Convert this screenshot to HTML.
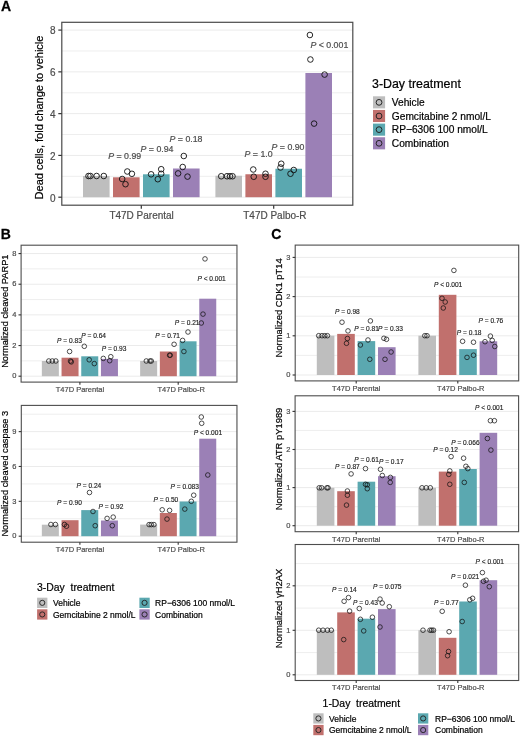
<!DOCTYPE html>
<html><head><meta charset="utf-8"><style>
html,body{margin:0;padding:0;background:#fff;width:520px;height:736px;overflow:hidden}
svg{display:block;font-family:"Liberation Sans", sans-serif;}
#wrap{width:520px;height:736px;will-change:transform}
text{white-space:pre}
</style></head><body><div id="wrap">
<svg width="520" height="736" viewBox="0 0 520 736">
<rect width="520" height="736" fill="#fff"/>
<text transform="translate(1,11.2) scale(1,1.04)" font-size="14" font-weight="bold" fill="#000" stroke="#000" stroke-width="0.25">A</text>
<text transform="translate(0.8,239.3) scale(1,1.04)" font-size="14" font-weight="bold" fill="#000" stroke="#000" stroke-width="0.25">B</text>
<text transform="translate(271.2,238.9) scale(1,1.04)" font-size="14" font-weight="bold" fill="#000" stroke="#000" stroke-width="0.25">C</text>
<line x1="61.8" x2="352.8" y1="176.31" y2="176.31" stroke="#ececec" stroke-width="0.9"/>
<line x1="61.8" x2="352.8" y1="134.53" y2="134.53" stroke="#ececec" stroke-width="0.9"/>
<line x1="61.8" x2="352.8" y1="92.75" y2="92.75" stroke="#ececec" stroke-width="0.9"/>
<line x1="61.8" x2="352.8" y1="50.97" y2="50.97" stroke="#ececec" stroke-width="0.9"/>
<line x1="61.8" x2="352.8" y1="197.2" y2="197.2" stroke="#ebebeb" stroke-width="1.0"/>
<line x1="61.8" x2="352.8" y1="155.42" y2="155.42" stroke="#ebebeb" stroke-width="1.0"/>
<line x1="61.8" x2="352.8" y1="113.64" y2="113.64" stroke="#ebebeb" stroke-width="1.0"/>
<line x1="61.8" x2="352.8" y1="71.86" y2="71.86" stroke="#ebebeb" stroke-width="1.0"/>
<line x1="61.8" x2="352.8" y1="30.08" y2="30.08" stroke="#ebebeb" stroke-width="1.0"/>
<rect x="83" y="176" width="26.6" height="21.2" fill="#bebebe"/>
<rect x="113" y="177.3" width="26.6" height="19.9" fill="#c1706d"/>
<rect x="143" y="174.3" width="26.6" height="22.9" fill="#5ba8b0"/>
<rect x="173" y="168.5" width="26.6" height="28.7" fill="#9b80b6"/>
<rect x="215.4" y="175.75" width="26.6" height="21.45" fill="#bebebe"/>
<rect x="245.4" y="174.25" width="26.6" height="22.95" fill="#c1706d"/>
<rect x="275.4" y="168.75" width="26.6" height="28.45" fill="#5ba8b0"/>
<rect x="305.4" y="73" width="26.6" height="124.2" fill="#9b80b6"/>
<circle cx="88.5" cy="176" r="2.8" fill="none" stroke="#111" stroke-width="0.90"/>
<circle cx="90.4" cy="176" r="2.8" fill="none" stroke="#111" stroke-width="0.90"/>
<circle cx="96.6" cy="176" r="2.8" fill="none" stroke="#111" stroke-width="0.90"/>
<circle cx="103.8" cy="176" r="2.8" fill="none" stroke="#111" stroke-width="0.90"/>
<circle cx="127.3" cy="171.5" r="2.8" fill="none" stroke="#111" stroke-width="0.90"/>
<circle cx="131.9" cy="173.8" r="2.8" fill="none" stroke="#111" stroke-width="0.90"/>
<circle cx="122.2" cy="179" r="2.8" fill="none" stroke="#111" stroke-width="0.90"/>
<circle cx="125.5" cy="184.2" r="2.8" fill="none" stroke="#111" stroke-width="0.90"/>
<circle cx="151.1" cy="174.3" r="2.8" fill="none" stroke="#111" stroke-width="0.90"/>
<circle cx="161.2" cy="169.2" r="2.8" fill="none" stroke="#111" stroke-width="0.90"/>
<circle cx="161.2" cy="173.8" r="2.8" fill="none" stroke="#111" stroke-width="0.90"/>
<circle cx="157.8" cy="179.2" r="2.8" fill="none" stroke="#111" stroke-width="0.90"/>
<circle cx="183.8" cy="156" r="2.8" fill="none" stroke="#111" stroke-width="0.90"/>
<circle cx="182.7" cy="167" r="2.8" fill="none" stroke="#111" stroke-width="0.90"/>
<circle cx="178.1" cy="173.4" r="2.8" fill="none" stroke="#111" stroke-width="0.90"/>
<circle cx="187.5" cy="176.6" r="2.8" fill="none" stroke="#111" stroke-width="0.90"/>
<circle cx="221.25" cy="176.25" r="2.8" fill="none" stroke="#111" stroke-width="0.90"/>
<circle cx="227" cy="176.25" r="2.8" fill="none" stroke="#111" stroke-width="0.90"/>
<circle cx="230" cy="176.25" r="2.8" fill="none" stroke="#111" stroke-width="0.90"/>
<circle cx="232.5" cy="176.25" r="2.8" fill="none" stroke="#111" stroke-width="0.90"/>
<circle cx="253.25" cy="169.5" r="2.8" fill="none" stroke="#111" stroke-width="0.90"/>
<circle cx="253.75" cy="176.75" r="2.8" fill="none" stroke="#111" stroke-width="0.90"/>
<circle cx="265.5" cy="173.75" r="2.8" fill="none" stroke="#111" stroke-width="0.90"/>
<circle cx="265.5" cy="176.75" r="2.8" fill="none" stroke="#111" stroke-width="0.90"/>
<circle cx="281.25" cy="163.75" r="2.8" fill="none" stroke="#111" stroke-width="0.90"/>
<circle cx="280.5" cy="167.5" r="2.8" fill="none" stroke="#111" stroke-width="0.90"/>
<circle cx="293.75" cy="170" r="2.8" fill="none" stroke="#111" stroke-width="0.90"/>
<circle cx="290.5" cy="173.75" r="2.8" fill="none" stroke="#111" stroke-width="0.90"/>
<circle cx="309.9" cy="35" r="2.8" fill="none" stroke="#111" stroke-width="0.90"/>
<circle cx="310.4" cy="59.5" r="2.8" fill="none" stroke="#111" stroke-width="0.90"/>
<circle cx="324.6" cy="74.6" r="2.8" fill="none" stroke="#111" stroke-width="0.90"/>
<circle cx="314.1" cy="123.6" r="2.8" fill="none" stroke="#111" stroke-width="0.90"/>
<text transform="translate(108.2,159) scale(1,1.04)" font-size="8.8" fill="#4d4d4d" stroke="#4d4d4d" stroke-width="0.2"><tspan font-style="italic">P</tspan> = 0.99</text>
<text transform="translate(140.5,151.7) scale(1,1.04)" font-size="8.8" fill="#4d4d4d" stroke="#4d4d4d" stroke-width="0.2"><tspan font-style="italic">P</tspan> = 0.94</text>
<text transform="translate(169.5,142.2) scale(1,1.04)" font-size="8.8" fill="#4d4d4d" stroke="#4d4d4d" stroke-width="0.2"><tspan font-style="italic">P</tspan> = 0.18</text>
<text transform="translate(244.5,156.7) scale(1,1.04)" font-size="8.8" fill="#4d4d4d" stroke="#4d4d4d" stroke-width="0.2"><tspan font-style="italic">P</tspan> = 1.0</text>
<text transform="translate(271.5,150.2) scale(1,1.04)" font-size="8.8" fill="#4d4d4d" stroke="#4d4d4d" stroke-width="0.2"><tspan font-style="italic">P</tspan> = 0.90</text>
<text transform="translate(310.4,47.6) scale(1,1.04)" font-size="8.8" fill="#4d4d4d" stroke="#4d4d4d" stroke-width="0.2"><tspan font-style="italic">P</tspan> &lt; 0.001</text>
<rect x="61.8" y="22.3" width="291" height="182.9" fill="none" stroke="#4a4a4a" stroke-width="1.2"/>
<line x1="58.3" x2="61.8" y1="197.2" y2="197.2" stroke="#333" stroke-width="1.2"/>
<text transform="translate(55.5,201.6) scale(1,1.04)" font-size="10" fill="#4d4d4d" text-anchor="end" stroke="#4d4d4d" stroke-width="0.2">0</text>
<line x1="58.3" x2="61.8" y1="155.42" y2="155.42" stroke="#333" stroke-width="1.2"/>
<text transform="translate(55.5,159.82) scale(1,1.04)" font-size="10" fill="#4d4d4d" text-anchor="end" stroke="#4d4d4d" stroke-width="0.2">2</text>
<line x1="58.3" x2="61.8" y1="113.64" y2="113.64" stroke="#333" stroke-width="1.2"/>
<text transform="translate(55.5,118.04) scale(1,1.04)" font-size="10" fill="#4d4d4d" text-anchor="end" stroke="#4d4d4d" stroke-width="0.2">4</text>
<line x1="58.3" x2="61.8" y1="71.86" y2="71.86" stroke="#333" stroke-width="1.2"/>
<text transform="translate(55.5,76.26) scale(1,1.04)" font-size="10" fill="#4d4d4d" text-anchor="end" stroke="#4d4d4d" stroke-width="0.2">6</text>
<line x1="58.3" x2="61.8" y1="30.08" y2="30.08" stroke="#333" stroke-width="1.2"/>
<text transform="translate(55.5,34.48) scale(1,1.04)" font-size="10" fill="#4d4d4d" text-anchor="end" stroke="#4d4d4d" stroke-width="0.2">8</text>
<line x1="141.3" x2="141.3" y1="205.2" y2="208.7" stroke="#333" stroke-width="1.2"/>
<text transform="translate(141.6,218.5) scale(1,1.04)" font-size="10" fill="#4d4d4d" text-anchor="middle" stroke="#4d4d4d" stroke-width="0.2">T47D Parental</text>
<line x1="273.7" x2="273.7" y1="205.2" y2="208.7" stroke="#333" stroke-width="1.2"/>
<text transform="translate(274.9,218.5) scale(1,1.04)" font-size="10" fill="#4d4d4d" text-anchor="middle" stroke="#4d4d4d" stroke-width="0.2">T47D Palbo-R</text>
<text transform="translate(42.7,117.5) rotate(-90) scale(1,1.04)" font-size="11" fill="#000" text-anchor="middle" stroke="#000" stroke-width="0.2">Dead cells, fold change to vehicle</text>
<text transform="translate(372,88.4) scale(1,1.04)" font-size="12.4" fill="#000" stroke="#000" stroke-width="0.2">3-Day treatment</text>
<rect x="373" y="96.3" width="12.1" height="12.1" fill="#bebebe"/>
<circle cx="379.05" cy="102.35" r="2.90" fill="none" stroke="#222" stroke-width="0.97"/>
<text transform="translate(391.8,106) scale(1,1.04)" font-size="10.2" fill="#000" stroke="#000" stroke-width="0.2">Vehicle</text>
<rect x="373" y="109.95" width="12.1" height="12.1" fill="#c1706d"/>
<circle cx="379.05" cy="116" r="2.90" fill="none" stroke="#222" stroke-width="0.97"/>
<text transform="translate(391.8,119.65) scale(1,1.04)" font-size="10.2" fill="#000" stroke="#000" stroke-width="0.2">Gemcitabine 2 nmol/L</text>
<rect x="373" y="123.6" width="12.1" height="12.1" fill="#5ba8b0"/>
<circle cx="379.05" cy="129.65" r="2.90" fill="none" stroke="#222" stroke-width="0.97"/>
<text transform="translate(391.8,133.3) scale(1,1.04)" font-size="10.2" fill="#000" stroke="#000" stroke-width="0.2">RP−6306 100 nmol/L</text>
<rect x="373" y="137.25" width="12.1" height="12.1" fill="#9b80b6"/>
<circle cx="379.05" cy="143.3" r="2.90" fill="none" stroke="#222" stroke-width="0.97"/>
<text transform="translate(391.8,146.95) scale(1,1.04)" font-size="10.2" fill="#000" stroke="#000" stroke-width="0.2">Combination</text>
<line x1="21.1" x2="236.95" y1="360.87" y2="360.87" stroke="#ececec" stroke-width="0.9"/>
<line x1="21.1" x2="236.95" y1="330.21" y2="330.21" stroke="#ececec" stroke-width="0.9"/>
<line x1="21.1" x2="236.95" y1="299.55" y2="299.55" stroke="#ececec" stroke-width="0.9"/>
<line x1="21.1" x2="236.95" y1="268.89" y2="268.89" stroke="#ececec" stroke-width="0.9"/>
<line x1="21.1" x2="236.95" y1="376.2" y2="376.2" stroke="#ebebeb" stroke-width="1.0"/>
<line x1="21.1" x2="236.95" y1="345.54" y2="345.54" stroke="#ebebeb" stroke-width="1.0"/>
<line x1="21.1" x2="236.95" y1="314.88" y2="314.88" stroke="#ebebeb" stroke-width="1.0"/>
<line x1="21.1" x2="236.95" y1="284.22" y2="284.22" stroke="#ebebeb" stroke-width="1.0"/>
<line x1="21.1" x2="236.95" y1="253.56" y2="253.56" stroke="#ebebeb" stroke-width="1.0"/>
<rect x="41.85" y="361" width="17" height="15.2" fill="#bebebe"/>
<rect x="61.55" y="357.7" width="17" height="18.5" fill="#c1706d"/>
<rect x="81.25" y="356.3" width="17" height="19.9" fill="#5ba8b0"/>
<rect x="100.95" y="358.9" width="17" height="17.3" fill="#9b80b6"/>
<rect x="140.15" y="361" width="17" height="15.2" fill="#bebebe"/>
<rect x="159.85" y="351.5" width="17" height="24.7" fill="#c1706d"/>
<rect x="179.55" y="341.3" width="17" height="34.9" fill="#5ba8b0"/>
<rect x="199.25" y="298.7" width="17" height="77.5" fill="#9b80b6"/>
<circle cx="48.8" cy="361" r="2.3" fill="none" stroke="#111" stroke-width="0.74"/>
<circle cx="52.3" cy="361" r="2.3" fill="none" stroke="#111" stroke-width="0.74"/>
<circle cx="55.8" cy="361" r="2.3" fill="none" stroke="#111" stroke-width="0.74"/>
<circle cx="69.6" cy="351.5" r="2.3" fill="none" stroke="#111" stroke-width="0.74"/>
<circle cx="70.5" cy="361" r="2.3" fill="none" stroke="#111" stroke-width="0.74"/>
<circle cx="71.3" cy="361.9" r="2.3" fill="none" stroke="#111" stroke-width="0.74"/>
<circle cx="84.3" cy="346.3" r="2.3" fill="none" stroke="#111" stroke-width="0.74"/>
<circle cx="89.2" cy="359.8" r="2.3" fill="none" stroke="#111" stroke-width="0.74"/>
<circle cx="94.3" cy="363.6" r="2.3" fill="none" stroke="#111" stroke-width="0.74"/>
<circle cx="103.3" cy="358.4" r="2.3" fill="none" stroke="#111" stroke-width="0.74"/>
<circle cx="110.8" cy="356.7" r="2.3" fill="none" stroke="#111" stroke-width="0.74"/>
<circle cx="109.7" cy="360.7" r="2.3" fill="none" stroke="#111" stroke-width="0.74"/>
<circle cx="146.3" cy="361" r="2.3" fill="none" stroke="#111" stroke-width="0.74"/>
<circle cx="150" cy="361" r="2.3" fill="none" stroke="#111" stroke-width="0.74"/>
<circle cx="151.3" cy="361" r="2.3" fill="none" stroke="#111" stroke-width="0.74"/>
<circle cx="169.6" cy="355.2" r="2.3" fill="none" stroke="#111" stroke-width="0.74"/>
<circle cx="170.2" cy="355.2" r="2.3" fill="none" stroke="#111" stroke-width="0.74"/>
<circle cx="174.1" cy="344.3" r="2.3" fill="none" stroke="#111" stroke-width="0.74"/>
<circle cx="182.6" cy="340.4" r="2.3" fill="none" stroke="#111" stroke-width="0.74"/>
<circle cx="188" cy="332" r="2.3" fill="none" stroke="#111" stroke-width="0.74"/>
<circle cx="183.9" cy="351.5" r="2.3" fill="none" stroke="#111" stroke-width="0.74"/>
<circle cx="205" cy="258.9" r="2.3" fill="none" stroke="#111" stroke-width="0.74"/>
<circle cx="203" cy="314.1" r="2.3" fill="none" stroke="#111" stroke-width="0.74"/>
<circle cx="201.3" cy="323" r="2.3" fill="none" stroke="#111" stroke-width="0.74"/>
<text transform="translate(57.1,343.4) scale(1,1.04)" font-size="6.6" fill="#1e1e1e" stroke="#1e1e1e" stroke-width="0.15"><tspan font-style="italic">P</tspan> = 0.83</text>
<text transform="translate(81.3,338.2) scale(1,1.04)" font-size="6.6" fill="#1e1e1e" stroke="#1e1e1e" stroke-width="0.15"><tspan font-style="italic">P</tspan> = 0.64</text>
<text transform="translate(101.7,351.1) scale(1,1.04)" font-size="6.6" fill="#1e1e1e" stroke="#1e1e1e" stroke-width="0.15"><tspan font-style="italic">P</tspan> = 0.93</text>
<text transform="translate(155.3,337.8) scale(1,1.04)" font-size="6.6" fill="#1e1e1e" stroke="#1e1e1e" stroke-width="0.15"><tspan font-style="italic">P</tspan> = 0.71</text>
<text transform="translate(174.8,324.8) scale(1,1.04)" font-size="6.6" fill="#1e1e1e" stroke="#1e1e1e" stroke-width="0.15"><tspan font-style="italic">P</tspan> = 0.21</text>
<text transform="translate(197.4,281.3) scale(1,1.04)" font-size="6.6" fill="#1e1e1e" stroke="#1e1e1e" stroke-width="0.15"><tspan font-style="italic">P</tspan> &lt; 0.001</text>
<rect x="21.1" y="245.2" width="215.85" height="136.9" fill="none" stroke="#4d4d4d" stroke-width="1.1"/>
<line x1="18.5" x2="21.1" y1="376.2" y2="376.2" stroke="#333" stroke-width="1.1"/>
<text transform="translate(16.3,378.4) scale(1,1.04)" font-size="7.5" fill="#4d4d4d" text-anchor="end" stroke="#4d4d4d" stroke-width="0.2">0</text>
<line x1="18.5" x2="21.1" y1="345.54" y2="345.54" stroke="#333" stroke-width="1.1"/>
<text transform="translate(16.3,347.74) scale(1,1.04)" font-size="7.5" fill="#4d4d4d" text-anchor="end" stroke="#4d4d4d" stroke-width="0.2">2</text>
<line x1="18.5" x2="21.1" y1="314.88" y2="314.88" stroke="#333" stroke-width="1.1"/>
<text transform="translate(16.3,317.08) scale(1,1.04)" font-size="7.5" fill="#4d4d4d" text-anchor="end" stroke="#4d4d4d" stroke-width="0.2">4</text>
<line x1="18.5" x2="21.1" y1="284.22" y2="284.22" stroke="#333" stroke-width="1.1"/>
<text transform="translate(16.3,286.42) scale(1,1.04)" font-size="7.5" fill="#4d4d4d" text-anchor="end" stroke="#4d4d4d" stroke-width="0.2">6</text>
<line x1="18.5" x2="21.1" y1="253.56" y2="253.56" stroke="#333" stroke-width="1.1"/>
<text transform="translate(16.3,255.76) scale(1,1.04)" font-size="7.5" fill="#4d4d4d" text-anchor="end" stroke="#4d4d4d" stroke-width="0.2">8</text>
<line x1="79.9" x2="79.9" y1="382.1" y2="384.7" stroke="#333" stroke-width="1.1"/>
<text transform="translate(79.9,391.9) scale(1,1.04)" font-size="7.5" fill="#4d4d4d" text-anchor="middle" stroke="#4d4d4d" stroke-width="0.2">T47D Parental</text>
<line x1="178.2" x2="178.2" y1="382.1" y2="384.7" stroke="#333" stroke-width="1.1"/>
<text transform="translate(181.2,391.9) scale(1,1.04)" font-size="7.5" fill="#4d4d4d" text-anchor="middle" stroke="#4d4d4d" stroke-width="0.2">T47D Palbo-R</text>
<text transform="translate(8,311.2) rotate(-90) scale(1,1.04)" font-size="9.25" fill="#000" text-anchor="middle" stroke="#000" stroke-width="0.2">Normalized cleaved PARP1</text>
<line x1="21.3" x2="236.95" y1="518.77" y2="518.77" stroke="#ececec" stroke-width="0.9"/>
<line x1="21.3" x2="236.95" y1="483.91" y2="483.91" stroke="#ececec" stroke-width="0.9"/>
<line x1="21.3" x2="236.95" y1="449.05" y2="449.05" stroke="#ececec" stroke-width="0.9"/>
<line x1="21.3" x2="236.95" y1="414.19" y2="414.19" stroke="#ececec" stroke-width="0.9"/>
<line x1="21.3" x2="236.95" y1="536.2" y2="536.2" stroke="#ebebeb" stroke-width="1.0"/>
<line x1="21.3" x2="236.95" y1="501.34" y2="501.34" stroke="#ebebeb" stroke-width="1.0"/>
<line x1="21.3" x2="236.95" y1="466.48" y2="466.48" stroke="#ebebeb" stroke-width="1.0"/>
<line x1="21.3" x2="236.95" y1="431.62" y2="431.62" stroke="#ebebeb" stroke-width="1.0"/>
<rect x="41.85" y="524.7" width="17" height="11.5" fill="#bebebe"/>
<rect x="61.55" y="520.2" width="17" height="16" fill="#c1706d"/>
<rect x="81.25" y="510.1" width="17" height="26.1" fill="#5ba8b0"/>
<rect x="100.95" y="520.5" width="17" height="15.7" fill="#9b80b6"/>
<rect x="140.15" y="524.6" width="17" height="11.6" fill="#bebebe"/>
<rect x="159.85" y="513" width="17" height="23.2" fill="#c1706d"/>
<rect x="179.55" y="501.5" width="17" height="34.7" fill="#5ba8b0"/>
<rect x="199.25" y="438.7" width="17" height="97.5" fill="#9b80b6"/>
<circle cx="50.9" cy="524.5" r="2.3" fill="none" stroke="#111" stroke-width="0.74"/>
<circle cx="55.4" cy="524.5" r="2.3" fill="none" stroke="#111" stroke-width="0.74"/>
<circle cx="64.4" cy="524.5" r="2.3" fill="none" stroke="#111" stroke-width="0.74"/>
<circle cx="66.5" cy="526.2" r="2.3" fill="none" stroke="#111" stroke-width="0.74"/>
<circle cx="89.5" cy="492.5" r="2.3" fill="none" stroke="#111" stroke-width="0.74"/>
<circle cx="93" cy="511.5" r="2.3" fill="none" stroke="#111" stroke-width="0.74"/>
<circle cx="95.2" cy="525.7" r="2.3" fill="none" stroke="#111" stroke-width="0.74"/>
<circle cx="107.1" cy="518.4" r="2.3" fill="none" stroke="#111" stroke-width="0.74"/>
<circle cx="113.2" cy="517.1" r="2.3" fill="none" stroke="#111" stroke-width="0.74"/>
<circle cx="112.3" cy="525.7" r="2.3" fill="none" stroke="#111" stroke-width="0.74"/>
<circle cx="149.1" cy="524.6" r="2.3" fill="none" stroke="#111" stroke-width="0.74"/>
<circle cx="151.3" cy="524.6" r="2.3" fill="none" stroke="#111" stroke-width="0.74"/>
<circle cx="153.9" cy="524.6" r="2.3" fill="none" stroke="#111" stroke-width="0.74"/>
<circle cx="162.2" cy="509.8" r="2.3" fill="none" stroke="#111" stroke-width="0.74"/>
<circle cx="169.6" cy="510.4" r="2.3" fill="none" stroke="#111" stroke-width="0.74"/>
<circle cx="167" cy="519.1" r="2.3" fill="none" stroke="#111" stroke-width="0.74"/>
<circle cx="184.8" cy="509.1" r="2.3" fill="none" stroke="#111" stroke-width="0.74"/>
<circle cx="191.3" cy="501.3" r="2.3" fill="none" stroke="#111" stroke-width="0.74"/>
<circle cx="193.7" cy="495.2" r="2.3" fill="none" stroke="#111" stroke-width="0.74"/>
<circle cx="201.3" cy="417" r="2.3" fill="none" stroke="#111" stroke-width="0.74"/>
<circle cx="201.7" cy="423.3" r="2.3" fill="none" stroke="#111" stroke-width="0.74"/>
<circle cx="207.8" cy="475" r="2.3" fill="none" stroke="#111" stroke-width="0.74"/>
<text transform="translate(76.5,487.6) scale(1,1.04)" font-size="6.6" fill="#1e1e1e" stroke="#1e1e1e" stroke-width="0.15"><tspan font-style="italic">P</tspan> = 0.24</text>
<text transform="translate(57.1,504.6) scale(1,1.04)" font-size="6.6" fill="#1e1e1e" stroke="#1e1e1e" stroke-width="0.15"><tspan font-style="italic">P</tspan> = 0.90</text>
<text transform="translate(98.6,508.9) scale(1,1.04)" font-size="6.6" fill="#1e1e1e" stroke="#1e1e1e" stroke-width="0.15"><tspan font-style="italic">P</tspan> = 0.92</text>
<text transform="translate(153.5,501.7) scale(1,1.04)" font-size="6.6" fill="#1e1e1e" stroke="#1e1e1e" stroke-width="0.15"><tspan font-style="italic">P</tspan> = 0.50</text>
<text transform="translate(170.5,488.7) scale(1,1.04)" font-size="6.6" fill="#1e1e1e" stroke="#1e1e1e" stroke-width="0.15"><tspan font-style="italic">P</tspan> = 0.083</text>
<text transform="translate(193.7,435.4) scale(1,1.04)" font-size="6.6" fill="#1e1e1e" stroke="#1e1e1e" stroke-width="0.15"><tspan font-style="italic">P</tspan> &lt; 0.001</text>
<rect x="21.3" y="405.4" width="215.65" height="136.8" fill="none" stroke="#4d4d4d" stroke-width="1.1"/>
<line x1="18.7" x2="21.3" y1="536.2" y2="536.2" stroke="#333" stroke-width="1.1"/>
<text transform="translate(16.5,538.4) scale(1,1.04)" font-size="7.5" fill="#4d4d4d" text-anchor="end" stroke="#4d4d4d" stroke-width="0.2">0</text>
<line x1="18.7" x2="21.3" y1="501.34" y2="501.34" stroke="#333" stroke-width="1.1"/>
<text transform="translate(16.5,503.54) scale(1,1.04)" font-size="7.5" fill="#4d4d4d" text-anchor="end" stroke="#4d4d4d" stroke-width="0.2">3</text>
<line x1="18.7" x2="21.3" y1="466.48" y2="466.48" stroke="#333" stroke-width="1.1"/>
<text transform="translate(16.5,468.68) scale(1,1.04)" font-size="7.5" fill="#4d4d4d" text-anchor="end" stroke="#4d4d4d" stroke-width="0.2">6</text>
<line x1="18.7" x2="21.3" y1="431.62" y2="431.62" stroke="#333" stroke-width="1.1"/>
<text transform="translate(16.5,433.82) scale(1,1.04)" font-size="7.5" fill="#4d4d4d" text-anchor="end" stroke="#4d4d4d" stroke-width="0.2">9</text>
<line x1="79.9" x2="79.9" y1="542.2" y2="544.8" stroke="#333" stroke-width="1.1"/>
<text transform="translate(79.9,552.2) scale(1,1.04)" font-size="7.5" fill="#4d4d4d" text-anchor="middle" stroke="#4d4d4d" stroke-width="0.2">T47D Parental</text>
<line x1="178.2" x2="178.2" y1="542.2" y2="544.8" stroke="#333" stroke-width="1.1"/>
<text transform="translate(181.2,552.2) scale(1,1.04)" font-size="7.5" fill="#4d4d4d" text-anchor="middle" stroke="#4d4d4d" stroke-width="0.2">T47D Palbo-R</text>
<text transform="translate(8,473.7) rotate(-90) scale(1,1.04)" font-size="9.25" fill="#000" text-anchor="middle" stroke="#000" stroke-width="0.2">Normalized cleaved caspase 3</text>
<text transform="translate(37,591.1) scale(1,1.04)" font-size="10.4" fill="#000" stroke="#000" stroke-width="0.2">3-Day  treatment</text>
<rect x="37.1" y="597.7" width="10.3" height="10.3" fill="#bebebe"/>
<circle cx="42.25" cy="602.85" r="2.58" fill="none" stroke="#222" stroke-width="0.93"/>
<text transform="translate(53,606) scale(1,1.04)" font-size="8.5" fill="#000" stroke="#000" stroke-width="0.2">Vehicle</text>
<rect x="37.1" y="609.3" width="10.3" height="10.3" fill="#c1706d"/>
<circle cx="42.25" cy="614.45" r="2.58" fill="none" stroke="#222" stroke-width="0.93"/>
<text transform="translate(53,617.6) scale(1,1.04)" font-size="8.5" fill="#000" stroke="#000" stroke-width="0.2">Gemcitabine 2 nmol/L</text>
<rect x="139.4" y="597.7" width="10.3" height="10.3" fill="#5ba8b0"/>
<circle cx="144.55" cy="602.85" r="2.58" fill="none" stroke="#222" stroke-width="0.93"/>
<text transform="translate(155.1,606) scale(1,1.04)" font-size="8.5" fill="#000" stroke="#000" stroke-width="0.2">RP−6306 100 nmol/L</text>
<rect x="139.4" y="609.3" width="10.3" height="10.3" fill="#9b80b6"/>
<circle cx="144.55" cy="614.45" r="2.58" fill="none" stroke="#222" stroke-width="0.93"/>
<text transform="translate(155.1,617.6) scale(1,1.04)" font-size="8.5" fill="#000" stroke="#000" stroke-width="0.2">Combination</text>
<line x1="295.2" x2="518.7" y1="355.4" y2="355.4" stroke="#ececec" stroke-width="0.9"/>
<line x1="295.2" x2="518.7" y1="316.2" y2="316.2" stroke="#ececec" stroke-width="0.9"/>
<line x1="295.2" x2="518.7" y1="277" y2="277" stroke="#ececec" stroke-width="0.9"/>
<line x1="295.2" x2="518.7" y1="375" y2="375" stroke="#ebebeb" stroke-width="1.0"/>
<line x1="295.2" x2="518.7" y1="335.8" y2="335.8" stroke="#ebebeb" stroke-width="1.0"/>
<line x1="295.2" x2="518.7" y1="296.6" y2="296.6" stroke="#ebebeb" stroke-width="1.0"/>
<line x1="295.2" x2="518.7" y1="257.4" y2="257.4" stroke="#ebebeb" stroke-width="1.0"/>
<rect x="316.8" y="335.7" width="17.6" height="39.3" fill="#bebebe"/>
<rect x="337.2" y="333.9" width="17.6" height="41.1" fill="#c1706d"/>
<rect x="357.6" y="341.1" width="17.6" height="33.9" fill="#5ba8b0"/>
<rect x="378" y="347.2" width="17.6" height="27.8" fill="#9b80b6"/>
<rect x="418.4" y="335.7" width="17.6" height="39.3" fill="#bebebe"/>
<rect x="438.8" y="294.8" width="17.6" height="80.2" fill="#c1706d"/>
<rect x="459.2" y="349.1" width="17.6" height="25.9" fill="#5ba8b0"/>
<rect x="479.6" y="341.3" width="17.6" height="33.7" fill="#9b80b6"/>
<circle cx="318.7" cy="335.7" r="2.3" fill="none" stroke="#111" stroke-width="0.74"/>
<circle cx="322" cy="335.7" r="2.3" fill="none" stroke="#111" stroke-width="0.74"/>
<circle cx="324.8" cy="335.7" r="2.3" fill="none" stroke="#111" stroke-width="0.74"/>
<circle cx="327.4" cy="335.7" r="2.3" fill="none" stroke="#111" stroke-width="0.74"/>
<circle cx="342" cy="322.2" r="2.3" fill="none" stroke="#111" stroke-width="0.74"/>
<circle cx="348" cy="330.9" r="2.3" fill="none" stroke="#111" stroke-width="0.74"/>
<circle cx="347.4" cy="338.5" r="2.3" fill="none" stroke="#111" stroke-width="0.74"/>
<circle cx="346.5" cy="343.3" r="2.3" fill="none" stroke="#111" stroke-width="0.74"/>
<circle cx="370.4" cy="320.9" r="2.3" fill="none" stroke="#111" stroke-width="0.74"/>
<circle cx="368" cy="340" r="2.3" fill="none" stroke="#111" stroke-width="0.74"/>
<circle cx="360.4" cy="345" r="2.3" fill="none" stroke="#111" stroke-width="0.74"/>
<circle cx="369.8" cy="359.3" r="2.3" fill="none" stroke="#111" stroke-width="0.74"/>
<circle cx="383.9" cy="338.3" r="2.3" fill="none" stroke="#111" stroke-width="0.74"/>
<circle cx="386.5" cy="339.3" r="2.3" fill="none" stroke="#111" stroke-width="0.74"/>
<circle cx="391.1" cy="352" r="2.3" fill="none" stroke="#111" stroke-width="0.74"/>
<circle cx="385" cy="359.3" r="2.3" fill="none" stroke="#111" stroke-width="0.74"/>
<circle cx="424.8" cy="335.7" r="2.3" fill="none" stroke="#111" stroke-width="0.74"/>
<circle cx="427" cy="335.7" r="2.3" fill="none" stroke="#111" stroke-width="0.74"/>
<circle cx="453.9" cy="270.4" r="2.3" fill="none" stroke="#111" stroke-width="0.74"/>
<circle cx="442" cy="298.3" r="2.3" fill="none" stroke="#111" stroke-width="0.74"/>
<circle cx="445.2" cy="302" r="2.3" fill="none" stroke="#111" stroke-width="0.74"/>
<circle cx="443.3" cy="308" r="2.3" fill="none" stroke="#111" stroke-width="0.74"/>
<circle cx="462.6" cy="341.3" r="2.3" fill="none" stroke="#111" stroke-width="0.74"/>
<circle cx="473.5" cy="342.2" r="2.3" fill="none" stroke="#111" stroke-width="0.74"/>
<circle cx="467" cy="357.4" r="2.3" fill="none" stroke="#111" stroke-width="0.74"/>
<circle cx="473.5" cy="355.2" r="2.3" fill="none" stroke="#111" stroke-width="0.74"/>
<circle cx="490.4" cy="336.1" r="2.3" fill="none" stroke="#111" stroke-width="0.74"/>
<circle cx="485" cy="341.7" r="2.3" fill="none" stroke="#111" stroke-width="0.74"/>
<circle cx="492.2" cy="340.4" r="2.3" fill="none" stroke="#111" stroke-width="0.74"/>
<circle cx="494.8" cy="346.5" r="2.3" fill="none" stroke="#111" stroke-width="0.74"/>
<text transform="translate(335,314.3) scale(1,1.04)" font-size="6.6" fill="#1e1e1e" stroke="#1e1e1e" stroke-width="0.15"><tspan font-style="italic">P</tspan> = 0.98</text>
<text transform="translate(354.2,330.9) scale(1,1.04)" font-size="6.6" fill="#1e1e1e" stroke="#1e1e1e" stroke-width="0.15"><tspan font-style="italic">P</tspan> = 0.81</text>
<text transform="translate(378.1,330.9) scale(1,1.04)" font-size="6.6" fill="#1e1e1e" stroke="#1e1e1e" stroke-width="0.15"><tspan font-style="italic">P</tspan> = 0.33</text>
<text transform="translate(433.9,286.7) scale(1,1.04)" font-size="6.6" fill="#1e1e1e" stroke="#1e1e1e" stroke-width="0.15"><tspan font-style="italic">P</tspan> &lt; 0.001</text>
<text transform="translate(456.8,335) scale(1,1.04)" font-size="6.6" fill="#1e1e1e" stroke="#1e1e1e" stroke-width="0.15"><tspan font-style="italic">P</tspan> = 0.18</text>
<text transform="translate(478.5,322.6) scale(1,1.04)" font-size="6.6" fill="#1e1e1e" stroke="#1e1e1e" stroke-width="0.15"><tspan font-style="italic">P</tspan> = 0.76</text>
<rect x="295.2" y="245.1" width="223.5" height="135.8" fill="none" stroke="#4d4d4d" stroke-width="1.1"/>
<line x1="292.6" x2="295.2" y1="375" y2="375" stroke="#333" stroke-width="1.1"/>
<text transform="translate(290.4,377.2) scale(1,1.04)" font-size="7.5" fill="#4d4d4d" text-anchor="end" stroke="#4d4d4d" stroke-width="0.2">0</text>
<line x1="292.6" x2="295.2" y1="335.8" y2="335.8" stroke="#333" stroke-width="1.1"/>
<text transform="translate(290.4,338) scale(1,1.04)" font-size="7.5" fill="#4d4d4d" text-anchor="end" stroke="#4d4d4d" stroke-width="0.2">1</text>
<line x1="292.6" x2="295.2" y1="296.6" y2="296.6" stroke="#333" stroke-width="1.1"/>
<text transform="translate(290.4,298.8) scale(1,1.04)" font-size="7.5" fill="#4d4d4d" text-anchor="end" stroke="#4d4d4d" stroke-width="0.2">2</text>
<line x1="292.6" x2="295.2" y1="257.4" y2="257.4" stroke="#333" stroke-width="1.1"/>
<text transform="translate(290.4,259.6) scale(1,1.04)" font-size="7.5" fill="#4d4d4d" text-anchor="end" stroke="#4d4d4d" stroke-width="0.2">3</text>
<line x1="356.2" x2="356.2" y1="380.9" y2="383.5" stroke="#333" stroke-width="1.1"/>
<text transform="translate(356.2,390.7) scale(1,1.04)" font-size="7.5" fill="#4d4d4d" text-anchor="middle" stroke="#4d4d4d" stroke-width="0.2">T47D Parental</text>
<line x1="457.8" x2="457.8" y1="380.9" y2="383.5" stroke="#333" stroke-width="1.1"/>
<text transform="translate(460.8,390.7) scale(1,1.04)" font-size="7.5" fill="#4d4d4d" text-anchor="middle" stroke="#4d4d4d" stroke-width="0.2">T47D Palbo-R</text>
<text transform="translate(281.6,307.8) rotate(-90) scale(1,1.04)" font-size="9.4" fill="#000" text-anchor="middle" stroke="#000" stroke-width="0.2">Normalized CDK1 pT14</text>
<line x1="295.1" x2="518.6" y1="506.65" y2="506.65" stroke="#ececec" stroke-width="0.9"/>
<line x1="295.1" x2="518.6" y1="468.55" y2="468.55" stroke="#ececec" stroke-width="0.9"/>
<line x1="295.1" x2="518.6" y1="430.45" y2="430.45" stroke="#ececec" stroke-width="0.9"/>
<line x1="295.1" x2="518.6" y1="525.7" y2="525.7" stroke="#ebebeb" stroke-width="1.0"/>
<line x1="295.1" x2="518.6" y1="487.6" y2="487.6" stroke="#ebebeb" stroke-width="1.0"/>
<line x1="295.1" x2="518.6" y1="449.5" y2="449.5" stroke="#ebebeb" stroke-width="1.0"/>
<line x1="295.1" x2="518.6" y1="411.4" y2="411.4" stroke="#ebebeb" stroke-width="1.0"/>
<rect x="316.8" y="487.8" width="17.6" height="37.9" fill="#bebebe"/>
<rect x="337.2" y="491.2" width="17.6" height="34.5" fill="#c1706d"/>
<rect x="357.6" y="481.7" width="17.6" height="44" fill="#5ba8b0"/>
<rect x="378" y="476.2" width="17.6" height="49.5" fill="#9b80b6"/>
<rect x="418.4" y="487.8" width="17.6" height="37.9" fill="#bebebe"/>
<rect x="438.8" y="471.6" width="17.6" height="54.1" fill="#c1706d"/>
<rect x="459.2" y="469" width="17.6" height="56.7" fill="#5ba8b0"/>
<rect x="479.6" y="432.8" width="17.6" height="92.9" fill="#9b80b6"/>
<circle cx="319.2" cy="487.8" r="2.3" fill="none" stroke="#111" stroke-width="0.74"/>
<circle cx="321.6" cy="487.8" r="2.3" fill="none" stroke="#111" stroke-width="0.74"/>
<circle cx="326.9" cy="487.8" r="2.3" fill="none" stroke="#111" stroke-width="0.74"/>
<circle cx="328" cy="487.8" r="2.3" fill="none" stroke="#111" stroke-width="0.74"/>
<circle cx="351.1" cy="473.9" r="2.3" fill="none" stroke="#111" stroke-width="0.74"/>
<circle cx="347.4" cy="491" r="2.3" fill="none" stroke="#111" stroke-width="0.74"/>
<circle cx="347.4" cy="495.2" r="2.3" fill="none" stroke="#111" stroke-width="0.74"/>
<circle cx="346.5" cy="505.1" r="2.3" fill="none" stroke="#111" stroke-width="0.74"/>
<circle cx="365.5" cy="468.6" r="2.3" fill="none" stroke="#111" stroke-width="0.74"/>
<circle cx="365.5" cy="484.3" r="2.3" fill="none" stroke="#111" stroke-width="0.74"/>
<circle cx="367.3" cy="484.8" r="2.3" fill="none" stroke="#111" stroke-width="0.74"/>
<circle cx="367.3" cy="488.7" r="2.3" fill="none" stroke="#111" stroke-width="0.74"/>
<circle cx="380.5" cy="469.3" r="2.3" fill="none" stroke="#111" stroke-width="0.74"/>
<circle cx="382.3" cy="475.5" r="2.3" fill="none" stroke="#111" stroke-width="0.74"/>
<circle cx="390.4" cy="477.4" r="2.3" fill="none" stroke="#111" stroke-width="0.74"/>
<circle cx="390.2" cy="482.4" r="2.3" fill="none" stroke="#111" stroke-width="0.74"/>
<circle cx="422" cy="487.8" r="2.3" fill="none" stroke="#111" stroke-width="0.74"/>
<circle cx="426.2" cy="487.8" r="2.3" fill="none" stroke="#111" stroke-width="0.74"/>
<circle cx="430.3" cy="487.8" r="2.3" fill="none" stroke="#111" stroke-width="0.74"/>
<circle cx="451.1" cy="456.6" r="2.3" fill="none" stroke="#111" stroke-width="0.74"/>
<circle cx="449.8" cy="470.9" r="2.3" fill="none" stroke="#111" stroke-width="0.74"/>
<circle cx="448.8" cy="474.4" r="2.3" fill="none" stroke="#111" stroke-width="0.74"/>
<circle cx="449.8" cy="484.3" r="2.3" fill="none" stroke="#111" stroke-width="0.74"/>
<circle cx="463.6" cy="458.2" r="2.3" fill="none" stroke="#111" stroke-width="0.74"/>
<circle cx="465.9" cy="466.3" r="2.3" fill="none" stroke="#111" stroke-width="0.74"/>
<circle cx="467.8" cy="468.6" r="2.3" fill="none" stroke="#111" stroke-width="0.74"/>
<circle cx="464.3" cy="482.4" r="2.3" fill="none" stroke="#111" stroke-width="0.74"/>
<circle cx="490.4" cy="420.7" r="2.3" fill="none" stroke="#111" stroke-width="0.74"/>
<circle cx="494.4" cy="420.7" r="2.3" fill="none" stroke="#111" stroke-width="0.74"/>
<circle cx="487.4" cy="438.5" r="2.3" fill="none" stroke="#111" stroke-width="0.74"/>
<circle cx="490.9" cy="450.1" r="2.3" fill="none" stroke="#111" stroke-width="0.74"/>
<text transform="translate(335,469.3) scale(1,1.04)" font-size="6.6" fill="#1e1e1e" stroke="#1e1e1e" stroke-width="0.15"><tspan font-style="italic">P</tspan> = 0.87</text>
<text transform="translate(354.2,462.3) scale(1,1.04)" font-size="6.6" fill="#1e1e1e" stroke="#1e1e1e" stroke-width="0.15"><tspan font-style="italic">P</tspan> = 0.61</text>
<text transform="translate(378.9,464) scale(1,1.04)" font-size="6.6" fill="#1e1e1e" stroke="#1e1e1e" stroke-width="0.15"><tspan font-style="italic">P</tspan> = 0.17</text>
<text transform="translate(433.2,452.4) scale(1,1.04)" font-size="6.6" fill="#1e1e1e" stroke="#1e1e1e" stroke-width="0.15"><tspan font-style="italic">P</tspan> = 0.12</text>
<text transform="translate(451.2,445) scale(1,1.04)" font-size="6.6" fill="#1e1e1e" stroke="#1e1e1e" stroke-width="0.15"><tspan font-style="italic">P</tspan> = 0.066</text>
<text transform="translate(475,410.3) scale(1,1.04)" font-size="6.6" fill="#1e1e1e" stroke="#1e1e1e" stroke-width="0.15"><tspan font-style="italic">P</tspan> &lt; 0.001</text>
<rect x="295.1" y="395.8" width="223.5" height="135.9" fill="none" stroke="#4d4d4d" stroke-width="1.1"/>
<line x1="292.5" x2="295.1" y1="525.7" y2="525.7" stroke="#333" stroke-width="1.1"/>
<text transform="translate(290.3,527.9) scale(1,1.04)" font-size="7.5" fill="#4d4d4d" text-anchor="end" stroke="#4d4d4d" stroke-width="0.2">0</text>
<line x1="292.5" x2="295.1" y1="487.6" y2="487.6" stroke="#333" stroke-width="1.1"/>
<text transform="translate(290.3,489.8) scale(1,1.04)" font-size="7.5" fill="#4d4d4d" text-anchor="end" stroke="#4d4d4d" stroke-width="0.2">1</text>
<line x1="292.5" x2="295.1" y1="449.5" y2="449.5" stroke="#333" stroke-width="1.1"/>
<text transform="translate(290.3,451.7) scale(1,1.04)" font-size="7.5" fill="#4d4d4d" text-anchor="end" stroke="#4d4d4d" stroke-width="0.2">2</text>
<line x1="292.5" x2="295.1" y1="411.4" y2="411.4" stroke="#333" stroke-width="1.1"/>
<text transform="translate(290.3,413.6) scale(1,1.04)" font-size="7.5" fill="#4d4d4d" text-anchor="end" stroke="#4d4d4d" stroke-width="0.2">3</text>
<line x1="356.2" x2="356.2" y1="531.7" y2="534.3" stroke="#333" stroke-width="1.1"/>
<text transform="translate(356.2,541.8) scale(1,1.04)" font-size="7.5" fill="#4d4d4d" text-anchor="middle" stroke="#4d4d4d" stroke-width="0.2">T47D Parental</text>
<line x1="457.8" x2="457.8" y1="531.7" y2="534.3" stroke="#333" stroke-width="1.1"/>
<text transform="translate(460.8,541.8) scale(1,1.04)" font-size="7.5" fill="#4d4d4d" text-anchor="middle" stroke="#4d4d4d" stroke-width="0.2">T47D Palbo-R</text>
<text transform="translate(281.6,459) rotate(-90) scale(1,1.04)" font-size="9.4" fill="#000" text-anchor="middle" stroke="#000" stroke-width="0.2">Normalized ATR pY1989</text>
<line x1="295.2" x2="518.7" y1="652.55" y2="652.55" stroke="#ececec" stroke-width="0.9"/>
<line x1="295.2" x2="518.7" y1="608.05" y2="608.05" stroke="#ececec" stroke-width="0.9"/>
<line x1="295.2" x2="518.7" y1="563.55" y2="563.55" stroke="#ececec" stroke-width="0.9"/>
<line x1="295.2" x2="518.7" y1="674.8" y2="674.8" stroke="#ebebeb" stroke-width="1.0"/>
<line x1="295.2" x2="518.7" y1="630.3" y2="630.3" stroke="#ebebeb" stroke-width="1.0"/>
<line x1="295.2" x2="518.7" y1="585.8" y2="585.8" stroke="#ebebeb" stroke-width="1.0"/>
<rect x="316.8" y="630.2" width="17.6" height="44.6" fill="#bebebe"/>
<rect x="337.2" y="612.4" width="17.6" height="62.4" fill="#c1706d"/>
<rect x="357.6" y="618.7" width="17.6" height="56.1" fill="#5ba8b0"/>
<rect x="378" y="609.1" width="17.6" height="65.7" fill="#9b80b6"/>
<rect x="418.4" y="630.2" width="17.6" height="44.6" fill="#bebebe"/>
<rect x="438.8" y="637.8" width="17.6" height="37" fill="#c1706d"/>
<rect x="459.2" y="601.5" width="17.6" height="73.3" fill="#5ba8b0"/>
<rect x="479.6" y="580.2" width="17.6" height="94.6" fill="#9b80b6"/>
<circle cx="318.7" cy="630.2" r="2.3" fill="none" stroke="#111" stroke-width="0.74"/>
<circle cx="323" cy="630.2" r="2.3" fill="none" stroke="#111" stroke-width="0.74"/>
<circle cx="327.4" cy="630.2" r="2.3" fill="none" stroke="#111" stroke-width="0.74"/>
<circle cx="331.3" cy="630.2" r="2.3" fill="none" stroke="#111" stroke-width="0.74"/>
<circle cx="348.5" cy="597.6" r="2.3" fill="none" stroke="#111" stroke-width="0.74"/>
<circle cx="344.1" cy="601.3" r="2.3" fill="none" stroke="#111" stroke-width="0.74"/>
<circle cx="349.6" cy="611.1" r="2.3" fill="none" stroke="#111" stroke-width="0.74"/>
<circle cx="343.7" cy="639.6" r="2.3" fill="none" stroke="#111" stroke-width="0.74"/>
<circle cx="359.3" cy="608.5" r="2.3" fill="none" stroke="#111" stroke-width="0.74"/>
<circle cx="360.4" cy="619.3" r="2.3" fill="none" stroke="#111" stroke-width="0.74"/>
<circle cx="372.4" cy="617.2" r="2.3" fill="none" stroke="#111" stroke-width="0.74"/>
<circle cx="363.7" cy="630.9" r="2.3" fill="none" stroke="#111" stroke-width="0.74"/>
<circle cx="380" cy="599.1" r="2.3" fill="none" stroke="#111" stroke-width="0.74"/>
<circle cx="382.2" cy="603" r="2.3" fill="none" stroke="#111" stroke-width="0.74"/>
<circle cx="389.3" cy="606.7" r="2.3" fill="none" stroke="#111" stroke-width="0.74"/>
<circle cx="380" cy="627" r="2.3" fill="none" stroke="#111" stroke-width="0.74"/>
<circle cx="423" cy="630.2" r="2.3" fill="none" stroke="#111" stroke-width="0.74"/>
<circle cx="430" cy="630.2" r="2.3" fill="none" stroke="#111" stroke-width="0.74"/>
<circle cx="431.7" cy="630.2" r="2.3" fill="none" stroke="#111" stroke-width="0.74"/>
<circle cx="433.5" cy="630.2" r="2.3" fill="none" stroke="#111" stroke-width="0.74"/>
<circle cx="442.2" cy="611.3" r="2.3" fill="none" stroke="#111" stroke-width="0.74"/>
<circle cx="449.1" cy="631.7" r="2.3" fill="none" stroke="#111" stroke-width="0.74"/>
<circle cx="448.5" cy="651.5" r="2.3" fill="none" stroke="#111" stroke-width="0.74"/>
<circle cx="447.6" cy="655.7" r="2.3" fill="none" stroke="#111" stroke-width="0.74"/>
<circle cx="465.4" cy="585.2" r="2.3" fill="none" stroke="#111" stroke-width="0.74"/>
<circle cx="469.8" cy="599.8" r="2.3" fill="none" stroke="#111" stroke-width="0.74"/>
<circle cx="472.6" cy="598.3" r="2.3" fill="none" stroke="#111" stroke-width="0.74"/>
<circle cx="462.2" cy="621.5" r="2.3" fill="none" stroke="#111" stroke-width="0.74"/>
<circle cx="482.4" cy="572.6" r="2.3" fill="none" stroke="#111" stroke-width="0.74"/>
<circle cx="483.5" cy="581.3" r="2.3" fill="none" stroke="#111" stroke-width="0.74"/>
<circle cx="486.1" cy="580.2" r="2.3" fill="none" stroke="#111" stroke-width="0.74"/>
<circle cx="489.3" cy="586.7" r="2.3" fill="none" stroke="#111" stroke-width="0.74"/>
<text transform="translate(332,592.2) scale(1,1.04)" font-size="6.6" fill="#1e1e1e" stroke="#1e1e1e" stroke-width="0.15"><tspan font-style="italic">P</tspan> = 0.14</text>
<text transform="translate(353.1,604.6) scale(1,1.04)" font-size="6.6" fill="#1e1e1e" stroke="#1e1e1e" stroke-width="0.15"><tspan font-style="italic">P</tspan> = 0.43</text>
<text transform="translate(373.1,588.9) scale(1,1.04)" font-size="6.6" fill="#1e1e1e" stroke="#1e1e1e" stroke-width="0.15"><tspan font-style="italic">P</tspan> = 0.075</text>
<text transform="translate(433.9,605.2) scale(1,1.04)" font-size="6.6" fill="#1e1e1e" stroke="#1e1e1e" stroke-width="0.15"><tspan font-style="italic">P</tspan> = 0.77</text>
<text transform="translate(450.9,579.1) scale(1,1.04)" font-size="6.6" fill="#1e1e1e" stroke="#1e1e1e" stroke-width="0.15"><tspan font-style="italic">P</tspan> = 0.021</text>
<text transform="translate(475.5,563.5) scale(1,1.04)" font-size="6.6" fill="#1e1e1e" stroke="#1e1e1e" stroke-width="0.15"><tspan font-style="italic">P</tspan> &lt; 0.001</text>
<rect x="295.2" y="544.5" width="223.5" height="136" fill="none" stroke="#4d4d4d" stroke-width="1.1"/>
<line x1="292.6" x2="295.2" y1="674.8" y2="674.8" stroke="#333" stroke-width="1.1"/>
<text transform="translate(290.4,677) scale(1,1.04)" font-size="7.5" fill="#4d4d4d" text-anchor="end" stroke="#4d4d4d" stroke-width="0.2">0</text>
<line x1="292.6" x2="295.2" y1="630.3" y2="630.3" stroke="#333" stroke-width="1.1"/>
<text transform="translate(290.4,632.5) scale(1,1.04)" font-size="7.5" fill="#4d4d4d" text-anchor="end" stroke="#4d4d4d" stroke-width="0.2">1</text>
<line x1="292.6" x2="295.2" y1="585.8" y2="585.8" stroke="#333" stroke-width="1.1"/>
<text transform="translate(290.4,588) scale(1,1.04)" font-size="7.5" fill="#4d4d4d" text-anchor="end" stroke="#4d4d4d" stroke-width="0.2">2</text>
<line x1="356.2" x2="356.2" y1="680.5" y2="683.1" stroke="#333" stroke-width="1.1"/>
<text transform="translate(356.2,690) scale(1,1.04)" font-size="7.5" fill="#4d4d4d" text-anchor="middle" stroke="#4d4d4d" stroke-width="0.2">T47D Parental</text>
<line x1="457.8" x2="457.8" y1="680.5" y2="683.1" stroke="#333" stroke-width="1.1"/>
<text transform="translate(460.8,690) scale(1,1.04)" font-size="7.5" fill="#4d4d4d" text-anchor="middle" stroke="#4d4d4d" stroke-width="0.2">T47D Palbo-R</text>
<text transform="translate(281.6,608.5) rotate(-90) scale(1,1.04)" font-size="9.4" fill="#000" text-anchor="middle" stroke="#000" stroke-width="0.2">Normalized γH2AX</text>
<text transform="translate(322.6,706.5) scale(1,1.04)" font-size="10.4" fill="#000" stroke="#000" stroke-width="0.2">1-Day  treatment</text>
<rect x="313.3" y="713.3" width="10.3" height="10.3" fill="#bebebe"/>
<circle cx="318.45" cy="718.45" r="2.58" fill="none" stroke="#222" stroke-width="0.93"/>
<text transform="translate(329,721.6) scale(1,1.04)" font-size="8.5" fill="#000" stroke="#000" stroke-width="0.2">Vehicle</text>
<rect x="313.3" y="724.9" width="10.3" height="10.3" fill="#c1706d"/>
<circle cx="318.45" cy="730.05" r="2.58" fill="none" stroke="#222" stroke-width="0.93"/>
<text transform="translate(329,733.2) scale(1,1.04)" font-size="8.5" fill="#000" stroke="#000" stroke-width="0.2">Gemcitabine 2 nmol/L</text>
<rect x="418" y="713.3" width="10.3" height="10.3" fill="#5ba8b0"/>
<circle cx="423.15" cy="718.45" r="2.58" fill="none" stroke="#222" stroke-width="0.93"/>
<text transform="translate(435,721.6) scale(1,1.04)" font-size="8.5" fill="#000" stroke="#000" stroke-width="0.2">RP−6306 100 nmol/L</text>
<rect x="418" y="724.9" width="10.3" height="10.3" fill="#9b80b6"/>
<circle cx="423.15" cy="730.05" r="2.58" fill="none" stroke="#222" stroke-width="0.93"/>
<text transform="translate(435,733.2) scale(1,1.04)" font-size="8.5" fill="#000" stroke="#000" stroke-width="0.2">Combination</text>
</svg></div></body></html>
